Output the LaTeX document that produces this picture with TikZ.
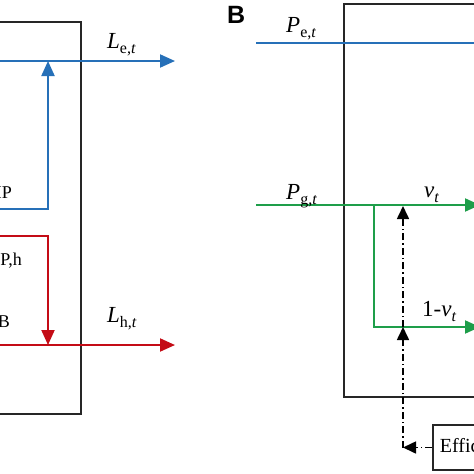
\documentclass[tikz,border=0pt]{standalone}
\usepackage{fontspec}
\setmainfont{Liberation Serif}
\setsansfont{Liberation Sans}
\usetikzlibrary{arrows.meta}
\definecolor{cblue}{RGB}{38,112,184}
\definecolor{cred}{RGB}{196,12,22}
\definecolor{cgreen}{RGB}{30,158,74}
\newcommand{\symb}[2]{\textit{#1}\raisebox{-0.22em}{\fontsize{16}{16}\selectfont #2}}
\begin{document}
\begin{tikzpicture}[x=1pt,y=-1pt,
  flow/.style={line width=2pt,-{Triangle[length=15pt,width=13pt]}},
  plain/.style={line width=2pt},
  frame/.style={draw=black!85,line width=1.8pt},
  ctrl/.style={line width=1.6pt,dash pattern=on 7pt off 3pt on 1.5pt off 3pt,-{Triangle[length=13pt,width=12pt]}},
  lab/.style={font=\fontsize{23}{23}\selectfont,inner sep=0pt},
  txt/.style={font=\fontsize{18}{18}\selectfont,inner sep=0pt}]
\useasboundingbox (0,0) rectangle (474,474);
\clip (0,0) rectangle (474,474);
% ---------- panel A (cropped) ----------
\draw[frame] (-10,22) rectangle (81,414);
\coordinate (ae0) at (-10,61);
\coordinate (ae1) at (175,61);
\coordinate (ab0) at (-10,209);
\coordinate (ab1) at (48,209);
\coordinate (ab2) at (48,61);
\coordinate (ar0) at (-10,236);
\coordinate (ar1) at (48,236);
\coordinate (ar2) at (48,345);
\coordinate (ah0) at (-10,345);
\coordinate (ah1) at (175,345);
\draw[flow,cblue] (ae0) -- (ae1);
\draw[flow,cblue] (ab0) -- (ab1) -- (ab2);
\draw[flow,cred] (ar0) -- (ar1) -- (ar2);
\draw[flow,cred] (ah0) -- (ah1);
\node[lab,anchor=base west] (le) at (107,48) {\symb{L}{e,\textit{t}}};
\node[lab,anchor=base west] (lh) at (107,322) {\symb{L}{h,\textit{t}}};
\node[txt,anchor=base east] (t1) at (12,198) {IP};
\node[txt,anchor=base east] (t2) at (22,265) {P,h};
\node[txt,anchor=base east] (t3) at (10,327) {B};
% ---------- panel B ----------
\node[font=\fontsize{25}{25}\selectfont\sffamily\bfseries,inner sep=0pt,anchor=base west] (pb) at (227,23) {B};
\draw[frame] (344,4) rectangle (490,397);
\coordinate (pe0) at (256,43);
\coordinate (pe1) at (490,43);
\draw[plain,cblue] (pe0) -- (pe1);
\coordinate (pg0) at (256,205);
\coordinate (pg1) at (480,205);
\coordinate (gj) at (374,205);
\coordinate (gk) at (374,327);
\coordinate (g2) at (480,327);
\draw[flow,cgreen] (pg0) -- (pg1);
\draw[flow,cgreen] (gj) -- (gk) -- (g2);
\node[lab,anchor=base west] (pel) at (286,32) {\symb{P}{e,\textit{t}}};
\node[lab,anchor=base west] (pgl) at (286,199) {\symb{P}{g,\textit{t}}};
\node[lab,anchor=base west] (vl) at (424,197) {\symb{v}{\textit{t}}};
\node[lab,anchor=base west] (v2) at (422,316) {1-\symb{v}{\textit{t}}};
\node[draw=black!85,line width=1.8pt,minimum height=45pt,anchor=west,inner xsep=7pt,
      font=\fontsize{20}{20}\selectfont] (eff) at (432,447.5) {Efficiency};
\coordinate (c0) at (403,447.5);
\coordinate (c1) at (403,327);
\coordinate (c2) at (403,206);
\draw[ctrl] (eff.west) -- (c0);
\draw[ctrl] (c0) -- (c1);
\draw[ctrl] (c1) -- (c2);
\end{tikzpicture}
\end{document}
